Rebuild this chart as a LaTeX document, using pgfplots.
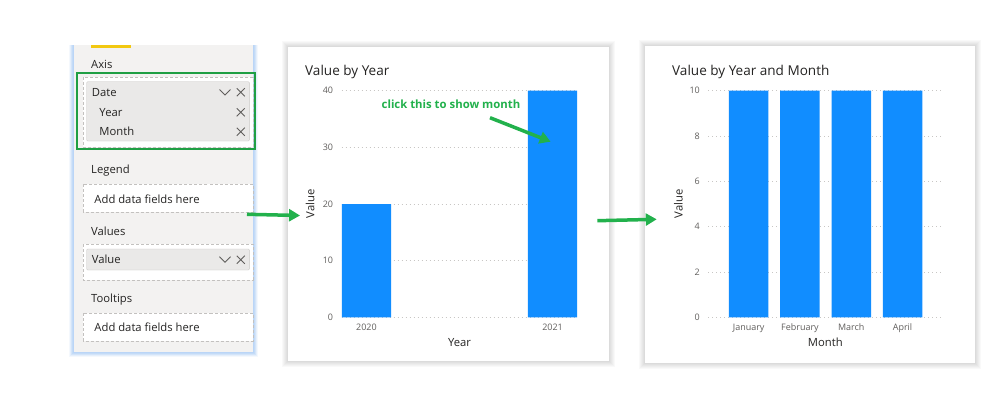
\documentclass[border=0pt]{standalone}
\usepackage{pgfplots}
\pgfplotsset{compat=1.18}
\usepackage{fontspec}
\setmainfont{Open Sans}
\usetikzlibrary{arrows.meta}
\definecolor{pbblue}{HTML}{118DFF}
\definecolor{pbgreen}{HTML}{22B14C}
\definecolor{txtdark}{HTML}{252423}
\definecolor{txtgray}{HTML}{605E5C}
\definecolor{gridgray}{HTML}{C8C6C4}
\definecolor{panebg}{HTML}{F3F2F1}
\definecolor{wellgray}{HTML}{EAE9E8}
\definecolor{dashgray}{HTML}{C3C1BF}
\definecolor{glow}{HTML}{B9D5F7}
\definecolor{pbyellow}{HTML}{F2C811}
\newcommand{\fs}[1]{\fontsize{#1}{#1}\selectfont}
\begin{document}
\begin{tikzpicture}[x=1bp,y=1bp]
\useasboundingbox (0,0) rectangle (1007,-405);
\fill[white] (0,0) rectangle (1007,-405);
% ---------- left pane ----------
\foreach \o/\op in {5/0.15,4/0.25,3/0.4,2/0.6,1/0.85}{
  \fill[glow,opacity=\op] (74-\o,-45) rectangle (253.3+\o,-351.7-\o);
}
\fill[panebg] (74,-45) rectangle (253.3,-351.7);
\fill[pbyellow] (90.7,-45) rectangle (130.7,-48);
\node[anchor=west,inner sep=0,font=\fs{11.3},text=txtdark] at (91,-64) {Axis};
\draw[dashgray,dash pattern=on 3bp off 2bp,fill=white] (83.3,-76.7) rectangle (252.7,-147.3);
\draw[gridgray,fill=wellgray,rounded corners=1bp] (86.7,-81.7) rectangle (249.3,-141);
\draw[pbgreen!90!black,line width=2bp] (77.3,-73.3) rectangle (255,-149);
\node[anchor=west,inner sep=0,font=\fs{11.3},text=txtdark] at (91.7,-92.7) {Date};
\node[anchor=west,inner sep=0,font=\fs{11.3},text=txtdark] at (99.3,-112.3) {Year};
\node[anchor=west,inner sep=0,font=\fs{11.3},text=txtdark] at (99.3,-131.7) {Month};
\draw[txtgray,line width=0.9bp] (219.5,-89.5) -- (225,-95) -- (230.5,-89.5);
\foreach \yy in {92.2,112.3,131.7}{
  \draw[txtgray,line width=0.9bp] (236.8,-\yy+4) -- (244.8,-\yy-4) (236.8,-\yy-4) -- (244.8,-\yy+4);
}
\node[anchor=west,inner sep=0,font=\fs{11.3},text=txtdark] at (91,-170.7) {Legend};
\draw[dashgray,dash pattern=on 3bp off 2bp,fill=white] (83.3,-184) rectangle (252.7,-211.7);
\node[anchor=west,inner sep=0,font=\fs{11.3},text=txtdark] at (94.3,-199) {Add data fields here};
\node[anchor=west,inner sep=0,font=\fs{11.3},text=txtdark] at (91,-231) {Values};
\draw[dashgray,dash pattern=on 3bp off 2bp,fill=white] (83.3,-244) rectangle (252.7,-280);
\draw[gridgray,fill=wellgray,rounded corners=1bp] (86.7,-249) rectangle (249.3,-270);
\node[anchor=west,inner sep=0,font=\fs{11.3},text=txtdark] at (91.7,-259.7) {Value};
\draw[txtgray,line width=0.9bp] (219.5,-256.7) -- (225,-262.2) -- (230.5,-256.7);
\draw[txtgray,line width=0.9bp] (236.8,-255.7) -- (244.8,-263.7) (236.8,-263.7) -- (244.8,-255.7);
\node[anchor=west,inner sep=0,font=\fs{11.3},text=txtdark] at (91,-299.3) {Tooltips};
\draw[dashgray,dash pattern=on 3bp off 2bp,fill=white] (83.3,-313.3) rectangle (252.7,-341);
\node[anchor=west,inner sep=0,font=\fs{11.3},text=txtdark] at (94.3,-327.3) {Add data fields here};
% ---------- cards ----------
\foreach \o in {6,5,4,3,2,1}{
  \fill[black,opacity=0.025] (288.3-\o,-46.7+\o) rectangle (609+\o,-361-\o);
  \fill[black,opacity=0.025] (644.5-\o,-46+\o) rectangle (975+\o,-362.5-\o);
}
\fill[white] (288.3,-46.7) rectangle (609,-361);
\fill[white] (644.5,-46) rectangle (975,-362.5);
\node[anchor=west,inner sep=0,font=\fs{13.6},text=txtdark] at (305,-72.3) {Value by Year};
\node[anchor=west,inner sep=0,font=\fs{13.6},text=txtdark] at (672,-72.3) {Value by Year and Month};
% ---------- chart 1 ----------
\begin{axis}[
  at={(341.7bp,-317.3bp)}, anchor=south west,
  scale only axis, width=235.6bp, height=226.6bp,
  xmin=-0.133, xmax=1.133, ymin=0, ymax=40,
  ytick={0,10,20,30,40}, xtick={0,1}, xticklabels={2020,2021},
  axis line style={draw=none}, major tick length=0pt,
  ymajorgrids, grid style={gridgray, line width=0.9bp, dash pattern=on 0.9bp off 3.1bp},
  tick label style={font=\fs{9}, text=txtgray},
  yticklabel style={anchor=east, inner sep=0pt, xshift=-8.4bp},
  xticklabel style={anchor=north, inner sep=0pt, yshift=-6.3bp},
  /pgf/number format/assume math mode=true,
  xlabel={Year}, ylabel={Value},
  xlabel style={at={(axis description cs:0.5,-0.112)}, anchor=center, inner sep=0pt, font=\fs{11.3}, text=txtdark},
  ylabel style={at={(axis description cs:-0.134,0.5)}, anchor=center, inner sep=0pt, font=\fs{11.3}, text=txtdark},
  clip=false,
]
\addplot[ybar, bar width=49.3bp, fill=pbblue, draw=none] coordinates {(0,20) (1,40)};
\end{axis}
% ---------- chart 2 ----------
\begin{axis}[
  at={(708.3bp,-317.3bp)}, anchor=south west,
  scale only axis, width=234bp, height=226.6bp,
  xmin=-0.788, xmax=3.776, ymin=0, ymax=10,
  ytick={0,2,4,6,8,10}, xtick={0,1,2,3}, xticklabels={January,February,March,April},
  axis line style={draw=none}, major tick length=0pt,
  ymajorgrids, grid style={gridgray, line width=0.9bp, dash pattern=on 0.9bp off 3.1bp},
  tick label style={font=\fs{9}, text=txtgray},
  yticklabel style={anchor=east, inner sep=0pt, xshift=-8.3bp},
  xticklabel style={anchor=north, inner sep=0pt, yshift=-6.3bp},
  /pgf/number format/assume math mode=true,
  xlabel={Month}, ylabel={Value},
  xlabel style={at={(axis description cs:0.5,-0.112)}, anchor=center, inner sep=0pt, font=\fs{11.3}, text=txtdark},
  ylabel style={at={(axis description cs:-0.128,0.5)}, anchor=center, inner sep=0pt, font=\fs{11.3}, text=txtdark},
  clip=false,
]
\addplot[ybar, bar width=39.5bp, fill=pbblue, draw=none] coordinates {(0,10) (1,10) (2,10) (3,10)};
\end{axis}
% ---------- annotations ----------
\node[font=\bfseries\fs{11.4}, text=pbgreen] at (451,-104) {click this to show month};
\draw[pbgreen, line width=3.5bp, -{Triangle[length=11bp,width=12bp]}] (490,-117.7) -- (550.7,-141.7);
\draw[pbgreen, line width=3.5bp, -{Triangle[length=11bp,width=12bp]}] (247,-214.3) -- (300,-215.5);
\draw[pbgreen, line width=3.5bp, -{Triangle[length=11bp,width=12bp]}] (597.3,-220.7) -- (656.7,-219.3);
\end{tikzpicture}
\end{document}
